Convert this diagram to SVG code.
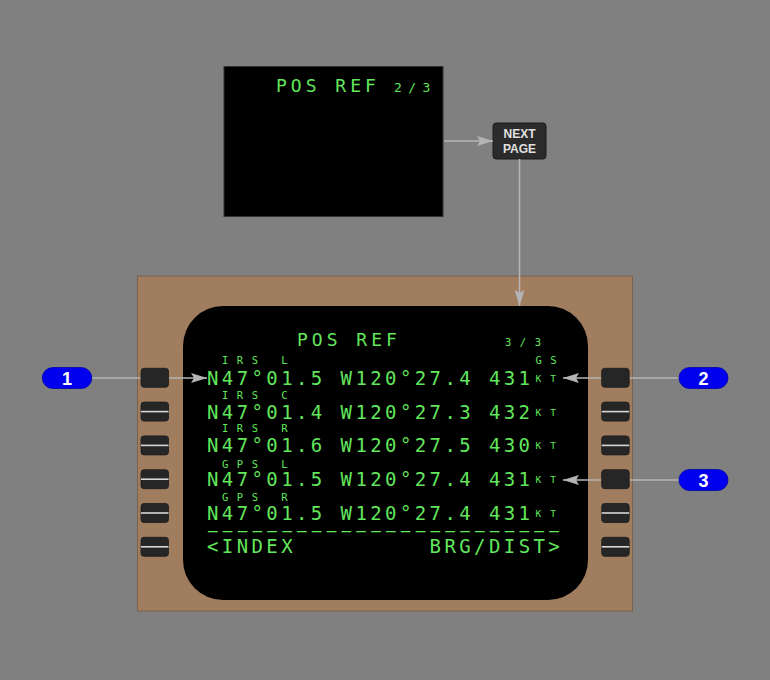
<svg xmlns="http://www.w3.org/2000/svg" width="770" height="680" viewBox="0 0 770 680">
<defs>
<style>
.lg{font-family:"DejaVu Sans Mono","Liberation Mono",monospace;font-size:19px;letter-spacing:3.4px;fill:#62e65c}
.sm{font-family:"DejaVu Sans Mono","Liberation Mono",monospace;font-size:10.5px;letter-spacing:8.52px;fill:#62e65c}
.kt{font-family:"DejaVu Sans Mono","Liberation Mono",monospace;font-size:9.5px;letter-spacing:9.12px;fill:#62e65c}
.ttl{font-family:"DejaVu Sans Mono","Liberation Mono",monospace;font-size:18px;letter-spacing:4px;fill:#62e65c}
.dash{font-family:"DejaVu Sans Mono","Liberation Mono",monospace;font-size:16px;letter-spacing:5.2px;fill:#62e65c}
.lsk{fill:#262626;stroke:#1a1a1a;stroke-width:0.8}
.lskline{stroke:#d8d8d8;stroke-width:1.6}
.conn{stroke:#b4b4b4;stroke-width:1.6;fill:none}
.callout{fill:#0000ee;stroke:#0000aa;stroke-width:0.8}
.ctext{font-family:"Liberation Sans",Arial,sans-serif;font-size:18px;font-weight:bold;fill:#ffffff;text-anchor:middle}
.btext{font-family:"Liberation Sans",Arial,sans-serif;font-size:12px;font-weight:bold;fill:#e0e0e0;text-anchor:middle}
</style>
<marker id="arr" viewBox="0 0 16 10" refX="16" refY="5" markerWidth="16" markerHeight="10" markerUnits="userSpaceOnUse" orient="auto">
<path d="M0,0 L16,5 L0,10 L3,5 z" fill="#b4b4b4"/>
</marker>
</defs>
<rect x="0" y="0" width="770" height="680" fill="#808080"/>

<g id="page2">
<rect x="224" y="66.5" width="219" height="150" fill="#000" stroke="#333" stroke-width="1"/>
<text class="ttl" x="276" y="91.7">POS REF</text>
<text x="394" y="91.7" style="font-family:'DejaVu Sans Mono','Liberation Mono',monospace;font-size:13px;letter-spacing:6.4px;fill:#62e65c">2/3</text>
</g>

<g id="next-page">
<rect x="493" y="123" width="53" height="36" rx="3" fill="#2b2b2b" stroke="#1c1c1c" stroke-width="1"/>
<text class="btext" x="519.5" y="138.3">NEXT</text>
<text class="btext" x="519.5" y="152.7">PAGE</text>
</g>

<g id="bezel">
<rect x="137.5" y="276" width="495" height="335" fill="#a17d5f" stroke="#7a6049" stroke-width="1"/>
</g>

<g id="screen">
<rect x="183" y="306" width="405" height="294" rx="40" fill="#000"/>
<text class="ttl" x="297" y="346">POS REF</text>
<text class="sm" x="505" y="345.7">3/3</text>

<text class="sm" x="222" y="364" xml:space="preserve">IRS L</text>
<text class="sm" x="535.5" y="364">GS</text>
<text class="lg" x="207" y="385">N47°01.5 W120°27.4 431</text>
<text class="kt" x="535.5" y="382">KT</text>

<text class="sm" x="222" y="399" xml:space="preserve">IRS C</text>
<text class="lg" x="207" y="418.5">N47°01.4 W120°27.3 432</text>
<text class="kt" x="535.5" y="415.5">KT</text>

<text class="sm" x="222" y="431.5" xml:space="preserve">IRS R</text>
<text class="lg" x="207" y="452.3">N47°01.6 W120°27.5 430</text>
<text class="kt" x="535.5" y="449.3">KT</text>

<text class="sm" x="222" y="467.8" xml:space="preserve">GPS L</text>
<text class="lg" x="207" y="486">N47°01.5 W120°27.4 431</text>
<text class="kt" x="535.5" y="483">KT</text>

<text class="sm" x="222" y="500.7" xml:space="preserve">GPS R</text>
<text class="lg" x="207" y="520">N47°01.5 W120°27.4 431</text>
<text class="kt" x="535.5" y="517">KT</text>

<text class="dash" x="208" y="535.5">––––––––––––––––––––––––</text>
<text class="lg" x="207" y="553.3">&lt;INDEX</text>
<text class="lg" x="429.6" y="553.3">BRG/DIST&gt;</text>
</g>

<g id="connectors">
<line class="conn" x1="444" y1="141" x2="493" y2="141" marker-end="url(#arr)"/>
<line class="conn" x1="519.5" y1="159" x2="519.5" y2="306" marker-end="url(#arr)"/>
<line class="conn" x1="92" y1="378" x2="207" y2="378" marker-end="url(#arr)"/>
<line class="conn" x1="679" y1="378" x2="563" y2="378" marker-end="url(#arr)"/>
<line class="conn" x1="679" y1="480" x2="563" y2="480" marker-end="url(#arr)"/>
</g>

<g id="lsk-left">
<rect class="lsk" x="141" y="368.3" width="27.5" height="19" rx="3"/>
<rect class="lsk" x="141" y="402.1" width="27.5" height="19" rx="3"/>
<line class="lskline" x1="141" y1="411.6" x2="168.5" y2="411.6"/>
<rect class="lsk" x="141" y="435.9" width="27.5" height="19" rx="3"/>
<line class="lskline" x1="141" y1="445.4" x2="168.5" y2="445.4"/>
<rect class="lsk" x="141" y="469.7" width="27.5" height="19" rx="3"/>
<line class="lskline" x1="141" y1="479.2" x2="168.5" y2="479.2"/>
<rect class="lsk" x="141" y="503.5" width="27.5" height="19" rx="3"/>
<line class="lskline" x1="141" y1="513" x2="168.5" y2="513"/>
<rect class="lsk" x="141" y="537.3" width="27.5" height="19" rx="3"/>
<line class="lskline" x1="141" y1="546.8" x2="168.5" y2="546.8"/>
</g>

<g id="lsk-right">
<rect class="lsk" x="601.7" y="368.3" width="27.5" height="19" rx="3"/>
<rect class="lsk" x="601.7" y="402.1" width="27.5" height="19" rx="3"/>
<line class="lskline" x1="601.7" y1="411.6" x2="629.2" y2="411.6"/>
<rect class="lsk" x="601.7" y="435.9" width="27.5" height="19" rx="3"/>
<line class="lskline" x1="601.7" y1="445.4" x2="629.2" y2="445.4"/>
<rect class="lsk" x="601.7" y="469.7" width="27.5" height="19" rx="3"/>
<rect class="lsk" x="601.7" y="503.5" width="27.5" height="19" rx="3"/>
<line class="lskline" x1="601.7" y1="513" x2="629.2" y2="513"/>
<rect class="lsk" x="601.7" y="537.3" width="27.5" height="19" rx="3"/>
<line class="lskline" x1="601.7" y1="546.8" x2="629.2" y2="546.8"/>
</g>

<g id="callout-1">
<rect class="callout" x="42.3" y="367.5" width="49.5" height="21" rx="10.5"/>
<text class="ctext" x="67" y="384.5">1</text>
</g>
<g id="callout-2">
<rect class="callout" x="679" y="367.5" width="49" height="21" rx="10.5"/>
<text class="ctext" x="703.5" y="384.5">2</text>
</g>
<g id="callout-3">
<rect class="callout" x="679" y="469.5" width="49" height="21" rx="10.5"/>
<text class="ctext" x="703.5" y="486.5">3</text>
</g>
</svg>
